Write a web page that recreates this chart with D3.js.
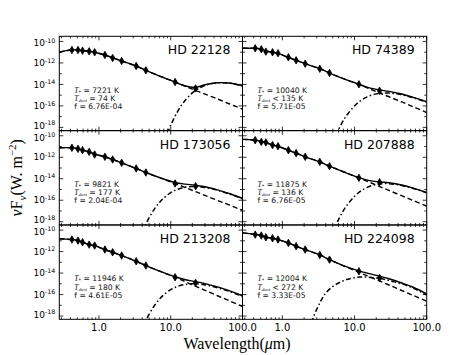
<!DOCTYPE html>
<html><head><meta charset="utf-8">
<script src="https://cdn.jsdelivr.net/npm/d3@7"></script>
<style>body{margin:0;background:#fff}svg{display:block}</style></head>
<body><svg id="c" width="474" height="355"></svg>
<script>
// ---------- data ----------
const starNames = ["HD 22128","HD 74389","HD 173056","HD 207888","HD 213208","HD 224098"];
const tStar = [7221, 10040, 9821, 11875, 11946, 12004];
const tDust = [74, 135, 177, 136, 180, 272];
const tDustRel = ["=", "<", "=", "=", "=", "<"];
const fracDust = ["6.76E-04","5.71E-05","2.04E-04","6.76E-05","4.61E-05","3.33E-05"];

// photometry wavelengths (micron) and log10 nuFnu (W m^-2)
const photWl = [0.42,0.51,0.59,0.73,0.87,1.21,1.55,2.07,3.3,4.5,11.5,22.2];
const photLog = [
  [-10.80,-10.80,-10.86,-10.92,-11.01,-11.26,-11.54,-11.82,-12.29,-12.69,-13.78,-14.37],
  [-10.64,-10.73,-10.95,-11.01,-11.10,-11.48,-11.76,-12.07,-12.54,-12.94,-13.99,-14.59],
  [-11.12,-11.22,-11.34,-11.50,-11.74,-11.96,-12.21,-12.52,-13.04,-13.42,-14.44,-14.69],
  [-10.41,-10.57,-10.62,-10.87,-10.97,-11.34,-11.62,-11.96,-12.43,-12.83,-13.92,-14.32],
  [-10.88,-10.98,-11.13,-11.35,-11.44,-11.81,-12.06,-12.37,-12.90,-13.30,-14.39,-14.91],
  [-10.42,-10.51,-10.67,-10.76,-10.88,-11.19,-11.50,-11.81,-12.31,-12.75,-13.83,-14.45]
];

// model wavelength grid
const modelWl = [0.28,0.35,0.42,0.5,0.6,0.73,0.87,1.2,1.55,2.07,3.3,4.5,7,11.5,16,22,30,45,65,100];
// stellar photosphere (dashed)
const starLog = [
  [-11.01,-10.86,-10.80,-10.79,-10.85,-10.92,-11.01,-11.26,-11.52,-11.82,-12.29,-12.69,-13.22,-13.78,-14.17,-14.55,-14.90,-15.36,-15.80,-16.30],
  [-10.64,-10.63,-10.64,-10.72,-10.90,-11.01,-11.11,-11.48,-11.76,-12.07,-12.54,-12.94,-13.47,-14.00,-14.40,-14.79,-15.15,-15.63,-16.08,-16.62],
  [-11.12,-11.10,-11.12,-11.20,-11.34,-11.50,-11.70,-11.96,-12.21,-12.52,-13.04,-13.42,-13.90,-14.44,-14.82,-15.19,-15.55,-16.02,-16.44,-16.94],
  [-10.34,-10.36,-10.40,-10.53,-10.65,-10.87,-10.98,-11.34,-11.62,-11.96,-12.43,-12.83,-13.35,-13.92,-14.32,-14.71,-15.09,-15.58,-16.03,-16.55],
  [-10.82,-10.84,-10.88,-10.97,-11.13,-11.35,-11.45,-11.81,-12.06,-12.37,-12.90,-13.30,-13.82,-14.39,-14.81,-15.21,-15.60,-16.11,-16.57,-17.12],
  [-10.26,-10.33,-10.41,-10.49,-10.67,-10.76,-10.89,-11.19,-11.50,-11.81,-12.31,-12.75,-13.32,-13.92,-14.33,-14.72,-15.11,-15.62,-16.08,-16.62]
];
// star + dust (solid)
const totalLog = [
  [-11.01,-10.86,-10.80,-10.79,-10.85,-10.92,-11.01,-11.26,-11.52,-11.82,-12.29,-12.69,-13.22,-13.78,-14.15,-14.28,-14.03,-13.85,-13.87,-14.13],
  [-10.64,-10.63,-10.64,-10.72,-10.90,-11.01,-11.11,-11.48,-11.76,-12.07,-12.54,-12.94,-13.47,-13.99,-14.32,-14.51,-14.65,-14.89,-15.21,-15.61],
  [-11.12,-11.10,-11.12,-11.20,-11.34,-11.50,-11.70,-11.96,-12.21,-12.52,-13.04,-13.42,-13.89,-14.35,-14.50,-14.60,-14.75,-15.03,-15.37,-15.82],
  [-10.34,-10.36,-10.40,-10.53,-10.65,-10.87,-10.98,-11.34,-11.62,-11.96,-12.43,-12.83,-13.35,-13.90,-14.17,-14.29,-14.37,-14.58,-14.87,-15.29],
  [-10.82,-10.84,-10.88,-10.97,-11.13,-11.35,-11.45,-11.81,-12.06,-12.37,-12.90,-13.30,-13.82,-14.34,-14.62,-14.79,-14.98,-15.29,-15.64,-16.12],
  [-10.26,-10.33,-10.41,-10.49,-10.67,-10.76,-10.89,-11.19,-11.50,-11.81,-12.31,-12.75,-13.30,-13.79,-14.05,-14.29,-14.53,-14.92,-15.32,-15.94]
];
// dust blackbody (dash-dot)
const dustWl = [
  [9,10,12,15,20,25,30,40,50,65,80,100],
  [5.5,6,7,8,10,12,15,20,25,30,40,50,65,80,100],
  [4,5,6,7,8,10,12,15,20,25,30,40,50,65,80,100],
  [5,6,7,8,10,12,15,20,25,30,40,50,65,80,100],
  [4,5,6,7,8,10,12,15,20,25,30,40,50,65,80,100],
  [2.5,3,3.5,4,5,6,7,8,10,12,15,20,25,30,40,50,65,80,100]
];
const dustLog = [
  [-18.56,-17.81,-16.72,-15.70,-14.79,-14.34,-14.09,-13.88,-13.84,-13.88,-13.99,-14.14],
  [-18.75,-18.20,-17.36,-16.77,-16.00,-15.54,-15.16,-14.88,-14.81,-14.81,-14.90,-15.04,-15.25,-15.43,-15.65],
  [-18.99,-17.62,-16.76,-16.18,-15.79,-15.29,-15.02,-14.82,-14.72,-14.75,-14.82,-14.99,-15.17,-15.41,-15.62,-15.86],
  [-19.02,-17.80,-16.97,-16.39,-15.63,-15.18,-14.80,-14.53,-14.46,-14.46,-14.56,-14.69,-14.90,-15.08,-15.31],
  [-19.15,-17.81,-16.97,-16.41,-16.02,-15.54,-15.28,-15.09,-15.00,-15.03,-15.10,-15.28,-15.46,-15.70,-15.92,-16.16],
  [-18.60,-17.35,-16.45,-15.85,-15.25,-14.92,-14.72,-14.57,-14.43,-14.37,-14.37,-14.46,-14.56,-14.67,-14.92,-15.10,-15.40,-15.70,-16.04]
];
const xTickVals = [1, 10, 100];
const xTickLabels = ["1.0", "10.0", "100.0"];
const yLabelExps = [-10, -12, -14, -16, -18];

// ---------- layout ----------
const svg = d3.select("#c");
const colX = [59.3, 242.5, 426.7];
const top0 = 36.3, bottom0 = 319.3, nRows = 3;
const rowH = (bottom0 - top0) / nRows;
const sansFont = "DejaVu Sans, sans-serif";
const serifFont = "Liberation Serif, DejaVu Serif, serif";

const xDomain = [0.28, 100];
const yDomain = [5e-19, 3e-10];

starNames.forEach((name, i) => {
  const r = Math.floor(i / 2), c = i % 2;
  const x0 = colX[c], x1 = colX[c + 1];
  const y0 = top0 + r * rowH, y1 = y0 + rowH;
  const x = d3.scaleLog().domain(xDomain).range([x0, x1]);
  const y = d3.scaleLog().domain(yDomain).range([y1, y0]);
  const g = svg.append("g");
  const clipId = "clip" + i;
  svg.append("clipPath").attr("id", clipId).append("rect")
    .attr("x", x0).attr("y", y0).attr("width", x1 - x0).attr("height", y1 - y0);
  const plot = g.append("g").attr("clip-path", `url(#${clipId})`);

  const line = d3.line().x(d => x(d[0])).y(d => y(Math.pow(10, d[1]))).curve(d3.curveCatmullRom.alpha(0.5));

  // dust
  plot.append("path").datum(dustWl[i].map((w, k) => [w, dustLog[i][k]]))
    .attr("d", line).attr("fill", "none").attr("stroke", "#000").attr("stroke-width", 1.5)
    .attr("stroke-dasharray", "5,2.5,1.5,2.5");
  // star
  plot.append("path").datum(modelWl.map((w, k) => [w, starLog[i][k]]))
    .attr("d", line).attr("fill", "none").attr("stroke", "#000").attr("stroke-width", 1.4)
    .attr("stroke-dasharray", "5,3");
  // total
  plot.append("path").datum(modelWl.map((w, k) => [w, totalLog[i][k]]))
    .attr("d", line).attr("fill", "none").attr("stroke", "#000").attr("stroke-width", 1.4);
  // photometry
  plot.selectAll("path.pt").data(photWl.map((w, k) => [w, photLog[i][k]])).enter()
    .append("path").attr("class", "pt")
    .attr("d", d3.symbol().type(d3.symbolDiamond).size(16))
    .attr("transform", d => `translate(${x(d[0])},${y(Math.pow(10, d[1]))})`)
    .attr("fill", "#000").attr("stroke", "#000").attr("stroke-width", 0.8);

  // frame
  g.append("rect").attr("x", x0).attr("y", y0).attr("width", x1 - x0).attr("height", y1 - y0)
    .attr("fill", "none").attr("stroke", "#000").attr("stroke-width", 1);

  // x ticks (inward, top and bottom)
  const xMajor = [1, 10, 100];
  const xMinor = [];
  [0.1, 1, 10].forEach(dec => { for (let m = 2; m <= 9; m++) { const v = dec * m; if (v >= xDomain[0] && v <= xDomain[1]) xMinor.push(v); } });
  const tk = g.append("g").attr("stroke", "#000").attr("stroke-width", 0.8);
  xMajor.forEach(v => {
    const px = x(v);
    tk.append("line").attr("x1", px).attr("x2", px).attr("y1", y1).attr("y2", y1 - 4);
    tk.append("line").attr("x1", px).attr("x2", px).attr("y1", y0).attr("y2", y0 + 4);
  });
  xMinor.forEach(v => {
    const px = x(v);
    tk.append("line").attr("x1", px).attr("x2", px).attr("y1", y1).attr("y2", y1 - 2);
    tk.append("line").attr("x1", px).attr("x2", px).attr("y1", y0).attr("y2", y0 + 2);
  });
  // y ticks: each decade
  for (let e = -18; e <= -10; e++) {
    const py = y(Math.pow(10, e));
    const len = (e % 2 === 0) ? 4 : 2.5;
    tk.append("line").attr("x1", x0).attr("x2", x0 + len).attr("y1", py).attr("y2", py);
    tk.append("line").attr("x1", x1).attr("x2", x1 - len).attr("y1", py).attr("y2", py);
  }

  // y tick labels on left column (edge labels nudged apart so stacked rows don't collide)
  if (c === 0) {
    yLabelExps.forEach(e => {
      const py = y(Math.pow(10, e));
      const nudge = e === -10 ? 1.6 : (e === -18 ? -1.6 : 0);
      const t = g.append("text").attr("x", x0 - 4).attr("y", py + 3.2 + nudge)
        .attr("text-anchor", "end").attr("font-family", sansFont).attr("font-size", 9).attr("fill", "#000");
      t.append("tspan").text("10");
      t.append("tspan").attr("font-size", 6.3).attr("dy", -3.6).text("-" + Math.abs(e));
    });
  }
  // x tick labels on bottom row
  if (r === nRows - 1) {
    xTickVals.forEach((v, k) => {
      g.append("text").attr("x", x(v)).attr("y", y1 + 12)
        .attr("text-anchor", "middle").attr("font-family", sansFont).attr("font-size", 10)
        .attr("fill", "#000").text(xTickLabels[k]);
    });
  }

  // star name
  g.append("text").attr("x", x1 - 12).attr("y", y0 + 18).attr("text-anchor", "end")
    .attr("font-family", sansFont).attr("font-size", 12.5).attr("fill", "#000").text(name);

  // annotation
  const ax = x0 + 15, ay = y0 + 56.5;
  const fs = 7.6;
  const t1 = g.append("text").attr("x", ax).attr("y", ay).attr("font-family", sansFont).attr("font-size", fs).attr("fill", "#111");
  t1.append("tspan").attr("font-family", serifFont).attr("font-style", "italic").text("T");
  t1.append("tspan").attr("font-size", 5).attr("dy", 1).text("*");
  t1.append("tspan").attr("dy", -1).text(" = " + tStar[i] + " K");
  const t2 = g.append("text").attr("x", ax).attr("y", ay + 8.2).attr("font-family", sansFont).attr("font-size", fs).attr("fill", "#111");
  t2.append("tspan").attr("font-family", serifFont).attr("font-style", "italic").text("T");
  t2.append("tspan").attr("font-family", serifFont).attr("font-style", "italic").attr("font-size", 5).attr("dy", 1).text("dust");
  t2.append("tspan").attr("dy", -1).text(" " + tDustRel[i] + " " + tDust[i] + " K");
  g.append("text").attr("x", ax).attr("y", ay + 16.2).attr("font-family", sansFont).attr("font-size", fs).attr("fill", "#111")
    .text("f = " + fracDust[i]);
});

// axis titles
const yl = svg.append("text").attr("transform", `translate(22,${(top0 + bottom0) / 2}) rotate(-90)`)
  .attr("text-anchor", "middle").attr("font-family", serifFont).attr("font-size", 16).attr("fill", "#000");
yl.append("tspan").attr("font-style", "italic").text("ν");
yl.append("tspan").text("F");
yl.append("tspan").attr("font-style", "italic").attr("font-size", 11).attr("dy", 4).text("ν");
yl.append("tspan").attr("dy", -4).text("(W. m");
yl.append("tspan").attr("font-size", 11).attr("dy", -6).text("−2");
yl.append("tspan").attr("dy", 6).text(")");

const xl = svg.append("text").attr("x", 237).attr("y", 349).attr("text-anchor", "middle")
  .attr("font-family", serifFont).attr("font-size", 16).attr("fill", "#000");
xl.append("tspan").text("Wavelength(");
xl.append("tspan").attr("font-style", "italic").text("μ");
xl.append("tspan").text("m)");
</script></body></html>
